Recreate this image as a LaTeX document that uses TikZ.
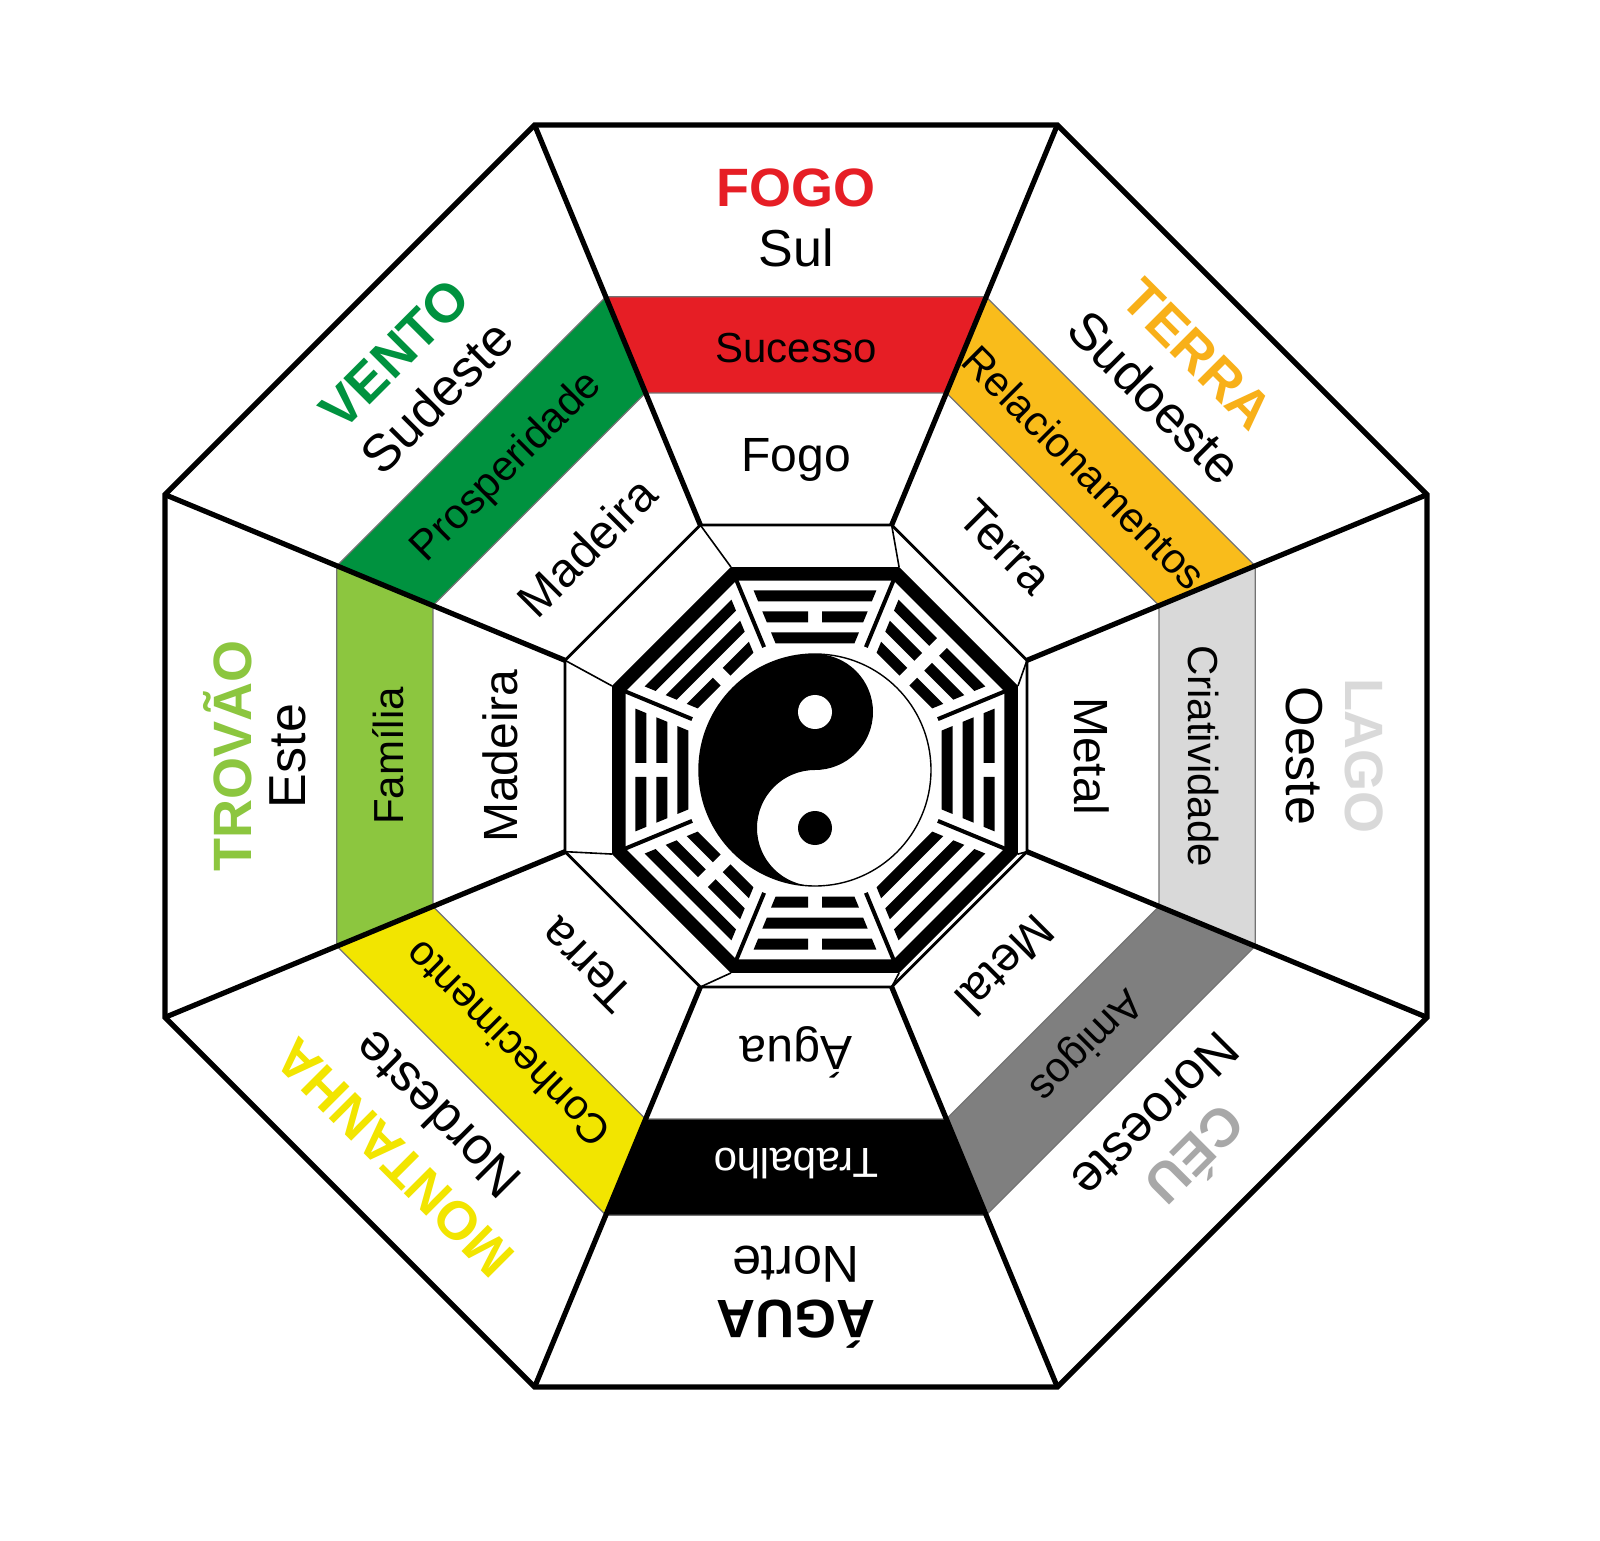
\documentclass[tikz,border=0pt]{standalone}
\usepackage{fontspec}
\setmainfont{Liberation Sans}
\usetikzlibrary{calc}
\definecolor{cFogo}{HTML}{E61E25}
\definecolor{cTerraT}{HTML}{F8B019}
\definecolor{cTerraB}{HTML}{F9BC1B}
\definecolor{cLago}{HTML}{D9D9D9}
\definecolor{cCeuT}{HTML}{A8A8A8}
\definecolor{cCeuB}{HTML}{7F7F7F}
\definecolor{cMont}{HTML}{F2E500}
\definecolor{cTrov}{HTML}{8CC63F}
\definecolor{cVento}{HTML}{00923F}
\newcommand\tgline[3]{%
  \pgfmathsetmacro\aA{#2-5.5}\pgfmathsetmacro\aB{#2+5.5}%
  \pgfmathsetmacro\wA{0.4142*\aA-13}\pgfmathsetmacro\wB{0.4142*\aB-13}%
  \ifnum#3=1 %
    \fill[rotate=#1-90] (-\wA,\aA) -- (\wA,\aA) -- (\wB,\aB) -- (-\wB,\aB) -- cycle;%
  \else
    \fill[rotate=#1-90] (-\wA,\aA) -- (-7,\aA) -- (-7,\aB) -- (-\wB,\aB) -- cycle;%
    \fill[rotate=#1-90] (\wA,\aA) -- (7,\aA) -- (7,\aB) -- (\wB,\aB) -- cycle;%
  \fi}
\tikzset{
  title/.style={font=\bfseries\fontsize{27}{30}\selectfont},
  dirtxt/.style={font=\fontsize{26}{30}\selectfont},
  bandtxt/.style={font=\fontsize{21}{24}\selectfont},
  eltxt/.style={font=\fontsize{24}{28}\selectfont},
}
\begin{document}
\begin{tikzpicture}[x=0.5pt,y=0.5pt]
\fill[white] (-796,-785) rectangle (804,756);
% bands
\foreach \t/\bc in {90/cFogo,45/cTerraB,0/cLago,-45/cCeuB,-90/black,-135/cMont,180/cTrov,135/cVento}
  \filldraw[fill=\bc, draw=black!55, line width=0.6pt] (\t-22.5:497) -- (\t+22.5:497) -- (\t+22.5:393) -- (\t-22.5:393) -- cycle;
% frame
\draw[line width=2.6pt, line join=miter] (22.5:683) \foreach \k in {1,...,7}{ -- (22.5+45*\k:683)} -- cycle;
\foreach \k in {0,...,7} \draw[line width=2.6pt] (22.5+45*\k:683) -- (22.5+45*\k:250);
\draw[line width=1.4pt, line join=miter] (22.5:250) \foreach \k in {1,...,7}{ -- (22.5+45*\k:250)} -- cycle;
% connectors to bagua
\foreach \k in {0,...,7} \draw[line width=0.8pt] (22.5+45*\k:250) -- ($(19,-14)+(22.5+45*\k:219.7)$);
% bagua
\begin{scope}[shift={(19,-14)}]
\fill[black] (22.5:219.7) \foreach \k in {1,...,7}{ -- (22.5+45*\k:219.7)} -- cycle;
\fill[white] (22.5:205) \foreach \k in {1,...,7}{ -- (22.5+45*\k:205)} -- cycle;
\foreach \k in {0,...,7} \draw[line width=2pt] (22.5+45*\k:133) -- (22.5+45*\k:206);
\foreach \t/\o/\m/\i in {90/1/0/1,45/0/0/0,0/0/1/1,-45/1/1/1,-90/0/1/0,-135/1/0/0,180/0/0/1,135/1/1/0}{%
  \tgline{\t}{174}{\o}\tgline{\t}{153}{\m}\tgline{\t}{132}{\i}}
\fill[white] (0,0) circle (116);
\fill[black] (0,116) arc[start angle=90,end angle=270,radius=116] arc[start angle=270,end angle=90,radius=58] arc[start angle=-90,end angle=90,radius=58] -- cycle;
\draw[line width=0.7pt] (0,0) circle (116);
\fill[white] (0,58) circle (17);
\fill[black] (0,-58) circle (17);
\end{scope}
% texts
\foreach \t/\ti/\tc/\d/\b/\btc/\e in {90/FOGO/cFogo/Sul/Sucesso/black/Fogo,
  45/TERRA/cTerraT/Sudoeste/Relacionamentos/black/Terra,
  0/LAGO/cLago/Oeste/Criatividade/black/Metal,
  -45/CÉU/cCeuT/Noroeste/Amigos/black/Metal,
  -90/ÁGUA/black/Norte/Trabalho/white/Água,
  -135/MONTANHA/cMont/Nordeste/Conhecimento/black/Terra,
  180/TROVÃO/cTrov/Este/Família/black/Madeira,
  135/VENTO/cVento/Sudeste/Prosperidade/black/Madeira}{
  \node[title, text=\tc, rotate=\t-90] (ti\t) at (\t:568) {\ti};
  \node[dirtxt, rotate=\t-90] (di\t) at (\t:508) {\d};
  \node[bandtxt, text=\btc, rotate=\t-90] (ba\t) at (\t:408) {\b};
  \node[eltxt, rotate=\t-90] (el\t) at (\t:296) {\e};
}
\pgfresetboundingbox
\useasboundingbox (-796,-785) rectangle (804,756);
\end{tikzpicture}
\end{document}
